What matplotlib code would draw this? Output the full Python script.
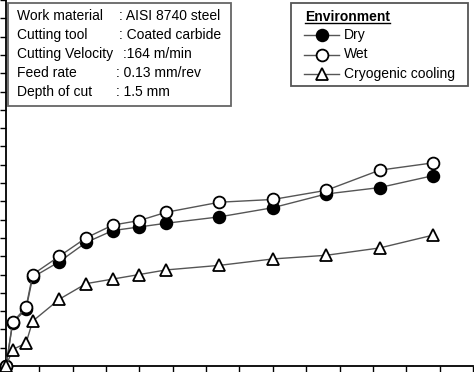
import matplotlib
matplotlib.use("Agg")
import matplotlib.pyplot as plt
from matplotlib.lines import Line2D
from matplotlib.patches import Rectangle

plt.rcParams['font.family'] = ['Liberation Sans', 'DejaVu Sans']

# --- Data ---
time_min = [0, 0.5, 1.5, 2, 4, 6, 8, 10, 12, 16, 20, 24, 28, 32]
wear_dry = [0, 0.047, 0.062, 0.097, 0.114, 0.135, 0.148, 0.152, 0.156, 0.163,
            0.173, 0.188, 0.195, 0.208]
wear_wet = [0, 0.048, 0.064, 0.100, 0.120, 0.140, 0.154, 0.159, 0.168, 0.179,
            0.182, 0.192, 0.214, 0.222]
wear_cryo = [0, 0.018, 0.025, 0.049, 0.073, 0.090, 0.095, 0.100, 0.105, 0.110,
             0.117, 0.121, 0.129, 0.143]

info_labels = ["Work material", "Cutting tool", "Cutting Velocity", "Feed rate", "Depth of cut"]
info_values = [": AISI 8740 steel", ": Coated carbide", ":164 m/min", ": 0.13 mm/rev", ": 1.5 mm"]

W, H = 474, 372
FS = 10
fig = plt.figure(figsize=(W / 100, H / 100), dpi=100)
ax = fig.add_axes([6 / W, (H - 366) / H, (473 - 6) / W, 366 / H])

line_col = "#555555"
styles = {
    "Dry": dict(marker="o", ms=8.5, mfc="black", mew=1.2),
    "Wet": dict(marker="o", ms=8.5, mfc="white", mew=1.3),
    "Cryogenic cooling": dict(marker="^", ms=9, mfc="white", mew=1.3),
}
series = {"Dry": wear_dry, "Wet": wear_wet, "Cryogenic cooling": wear_cryo}
for z, (name, vals) in enumerate(series.items()):
    ax.plot(time_min, vals, color=line_col, lw=1, mec="black", clip_on=False,
            zorder=3 + z, **styles[name])

ax.set_xlim(0, 35)
ax.set_ylim(0, 0.4)
ax.set_xticks([i * 2.5 for i in range(15)])
ax.set_yticks([i * 0.02 for i in range(21)])
ax.tick_params(direction="out", length=4.5, width=1, labelbottom=False, labelleft=False)
for s in ["top", "right"]:
    ax.spines[s].set_visible(False)
for s in ["left", "bottom"]:
    ax.spines[s].set_linewidth(1.3)

# --- helpers in figure pixel coords ---
def px(x, y):
    return x / W, 1 - y / H

def box(xa, ya, xb, yb, ec):
    x0, y0 = px(xa, yb)
    x1, y1 = px(xb, ya)
    fig.add_artist(Rectangle((x0, y0), x1 - x0, y1 - y0, transform=fig.transFigure,
                             facecolor="white", edgecolor=ec, lw=1.3, zorder=6))

# --- Info box ---
box(8, 3, 231, 106, "#666666")
val_x = [119, 119, 123, 116, 116]
for i, (lab, val) in enumerate(zip(info_labels, info_values)):
    yy = 16 + i * 19
    fig.text(*px(17, yy), lab, fontsize=FS, va="center", ha="left", zorder=7)
    fig.text(*px(val_x[i], yy), val, fontsize=FS, va="center", ha="left", zorder=7)

# --- Legend (drawn by hand to match spacing) ---
box(291, 3, 468, 86, "#555555")
title = fig.text(*px(305, 17), "Environment", fontsize=FS, fontweight="bold",
                 va="center", ha="left", zorder=7)
fig.canvas.draw()
bb = title.get_window_extent().transformed(fig.transFigure.inverted())
fig.add_artist(Line2D([bb.x0, bb.x1], [bb.y0 + 0.003, bb.y0 + 0.003],
                      transform=fig.transFigure, color="black", lw=1, zorder=8))
for i, name in enumerate(series):
    yy = 35 + i * 19.5
    xa, ya = px(304, yy)
    xb, _ = px(339, yy)
    fig.add_artist(Line2D([xa, xb], [ya, ya], transform=fig.transFigure,
                          color=line_col, lw=1, zorder=7))
    fig.add_artist(Line2D([(xa + xb) / 2], [ya], transform=fig.transFigure,
                          mec="black", zorder=8, lw=0, **styles[name]))
    fig.text(*px(344, yy), name, fontsize=FS, va="center", ha="left", zorder=7)

fig.savefig("out.png", dpi=100)
